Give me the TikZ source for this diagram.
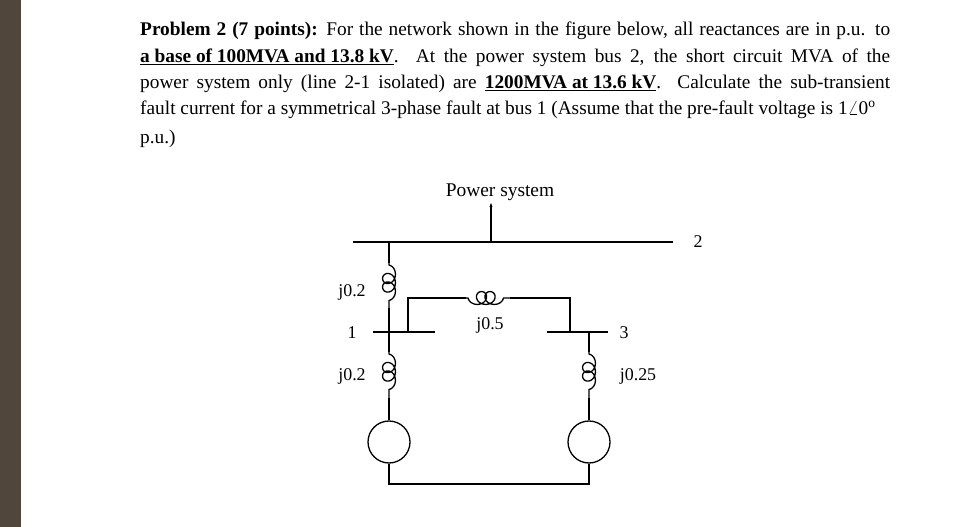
\documentclass[tikz,border=0pt]{standalone}
\usepackage{fontspec}
\setmainfont{Liberation Serif}
\usetikzlibrary{decorations.pathmorphing,arrows.meta}
\begin{document}
\begin{tikzpicture}[x=1bp,y=-1bp,
  w/.style={line width=1.3bp},
  coilv/.style={w,decorate,decoration={coil,aspect=1.1,amplitude=6.5bp,segment length=8.5bp,pre length=2bp,post length=2bp}},
  lbl/.style={font=\fontsize{18}{20}\selectfont,inner sep=0pt},
  gen/.style={circle,draw,line width=1.3bp,minimum size=42bp,inner sep=0pt}]
\useasboundingbox (0,0) rectangle (967,527);
\fill[black!75!brown!60!gray] (0,0) rectangle (21,527);
\node[anchor=north west,inner sep=0pt,text width=750bp,align=justify,
  font=\fontsize{19.4}{26.4}\selectfont] (txt) at (140,22) {\textbf{Problem 2 (7 points):} For the network shown in the figure below, all reactances are in p.u. to\linebreak
\textbf{\underline{a base of 100MVA and 13.8 kV}}. At the power system bus 2, the short circuit MVA of the\linebreak
power system only (line 2-1 isolated) are \textbf{\underline{1200MVA at 13.6 kV}}. Calculate the sub-transient\linebreak
fault current for a symmetrical 3-phase fault at bus 1 (Assume that the pre-fault voltage is 1$\angle$0$^{\mathrm{o}}$\\[2bp]
p.u.)};
% buses
\coordinate (b2l) at (353,242); \coordinate (b2r) at (673,242);
\draw[w] (b2l) -- (b2r);
\node[lbl] (l2) at (698,242) {2};
\node[lbl,font=\fontsize{19.5}{21}\selectfont] (ps) at (500,192) {Power system};
\coordinate (pa) at (491,242);
\coordinate (pt) at (491,203);
\draw[w,-{Stealth[length=4bp,width=3bp]}] (pa) -- (pt);
\coordinate (b1l) at (373,332); \coordinate (b1r) at (435,332);
\draw[w] (b1l) -- (b1r);
\node[lbl] (l1) at (352,333) {1};
\coordinate (b3l) at (547,332); \coordinate (b3r) at (608,332);
\draw[w] (b3l) -- (b3r);
\node[lbl] (l3) at (624,333) {3};
% left branch
\coordinate (t1) at (389,242);
\coordinate (c1t) at (389,263); \coordinate (c1b) at (389,308);
\coordinate (c2t) at (389,352); \coordinate (c2b) at (389,398);
\draw[w] (t1) -- (c1t);
\draw[coilv] (c1t) -- (c1b);
\draw[w] (c1b) -- (c2t);
\draw[coilv] (c2t) -- (c2b);
\node[gen] (g1) at (389,442) {};
\draw[w] (c2b) -- (g1.north);
\node[lbl] (x1) at (352,292) {j0.2};
\node[lbl] (x2) at (352,376) {j0.2};
% middle branch
\coordinate (m1) at (408,332); \coordinate (m2) at (408,298);
\coordinate (ca) at (466,298); \coordinate (cb) at (510,298);
\coordinate (m3) at (570,298); \coordinate (m4) at (570,332);
\draw[w] (m1) -- (m2) -- (ca);
\draw[coilv,decoration={mirror}] (ca) -- (cb);
\draw[w] (cb) -- (m3) -- (m4);
\node[lbl] (x3) at (490,325) {j0.5};
% right branch
\coordinate (r0) at (589,332);
\coordinate (c3t) at (589,352); \coordinate (c3b) at (589,398);
\draw[w] (r0) -- (c3t);
\draw[coilv] (c3t) -- (c3b);
\node[gen] (g2) at (589,442) {};
\draw[w] (c3b) -- (g2.north);
\node[lbl] (x4) at (638,376) {j0.25};
% ground return
\coordinate (gr1) at (389,484); \coordinate (gr2) at (589,484);
\draw[w] (g1.south) -- (gr1) -- (gr2) -- (g2.south);
\end{tikzpicture}
\end{document}
